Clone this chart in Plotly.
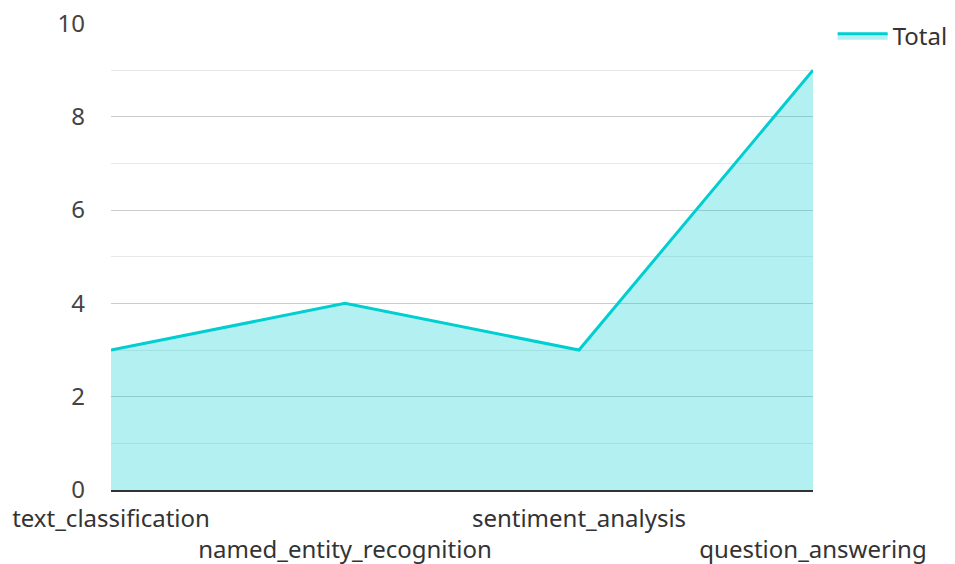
import plotly.graph_objects as go

categories = ["text_classification", "named_entity_recognition", "sentiment_analysis", "question_answering"]
totals = [3, 4, 3, 9]
y_ticks = [0, 2, 4, 6, 8, 10]

ticktext = [c if i % 2 == 0 else "<br>" + c for i, c in enumerate(categories)]

fig = go.Figure()
fig.add_trace(go.Scatter(
    x=list(range(len(categories))), y=totals, name="Total", mode="lines",
    line=dict(color="#00CED1", width=3),
    fill="tozeroy", fillcolor="rgba(0,206,209,0.3)",
))

fig.update_layout(
    width=955, height=564,
    margin=dict(l=103, r=150, t=15, b=82, autoexpand=False),
    paper_bgcolor="white", plot_bgcolor="white",
    font=dict(family="Noto Sans, Open Sans, sans-serif", size=24, color="#444"),
    showlegend=True,
    legend=dict(x=1.028, y=1.02, xanchor="left", yanchor="top", itemwidth=50,
                font=dict(size=24, color="#333"), bgcolor="rgba(0,0,0,0)",
                borderwidth=0),
    xaxis=dict(
        tickvals=list(range(len(categories))), ticktext=ticktext,
        range=[0, len(categories) - 1], showgrid=False, zeroline=False,
        showline=True, linecolor="#333", linewidth=2, ticks="",
        tickfont=dict(size=24, color="#333"), tickangle=0,
        automargin=False, ticklabelstandoff=6,
    ),
    yaxis=dict(
        range=[0, 10.01], tickvals=y_ticks, showgrid=True, gridcolor="#cccccc", gridwidth=1,
        zeroline=False, showline=False, ticks="", ticklen=0,
        tickfont=dict(size=24, color="#444"),
        automargin=False, ticklabelstandoff=25, ticklabeloverflow="allow",
        minor=dict(dtick=1, showgrid=True, gridcolor="#e8e8e8", gridwidth=1),
    ),
)

fig.write_html("out.html")
